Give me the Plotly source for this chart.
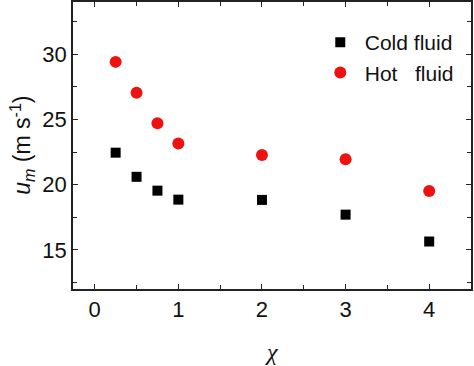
import plotly.graph_objects as go

chi = [0.25, 0.5, 0.75, 1, 2, 3, 4]
cold = [22.45, 20.6, 19.54, 18.85, 18.83, 17.7, 15.64]
hot = [29.41, 27.04, 24.7, 23.16, 22.27, 21.94, 19.52]
xticks = [0, 1, 2, 3, 4]
yticks = [15, 20, 25, 30]

fig = go.Figure()
fig.add_trace(go.Scatter(x=chi, y=cold, mode="markers", name="Cold fluid",
                         marker=dict(symbol="square", size=10, color="black")))
fig.add_trace(go.Scatter(x=chi, y=hot, mode="markers", name="Hot\u00a0\u00a0\u00a0fluid",
                         marker=dict(symbol="circle", size=12, color="#ee1111")))

axis_common = dict(showline=True, linecolor="#222", linewidth=1.5, mirror="ticks",
                   ticks="inside", ticklen=5, tickwidth=1.2, tickcolor="#222",
                   showgrid=False, zeroline=False, automargin=False,
                   tickfont=dict(family="Liberation Sans, Arial", size=22, color="#111"))
fig.update_xaxes(range=[-0.26, 4.5], tickvals=xticks,
                 minor=dict(ticks="inside", ticklen=4, dtick=0.5, tick0=0, tickcolor="#222", showgrid=False),
                 **axis_common)
fig.update_yaxes(range=[12, 34], tickvals=yticks,
                 minor=dict(ticks="inside", ticklen=4, dtick=2.5, tick0=0, tickcolor="#222", showgrid=False),
                 **axis_common)

fig.update_layout(
    width=474, height=366,
    margin=dict(l=73, r=3, t=2, b=77, autoexpand=False),
    plot_bgcolor="white", paper_bgcolor="white",
    showlegend=True,
    legend=dict(x=0.61, y=0.93, xanchor="left", yanchor="top",
                font=dict(family="Liberation Sans, Arial", size=21, color="#111"),
                bgcolor="rgba(0,0,0,0)", tracegroupgap=0, itemwidth=39),
    annotations=[
        dict(text="<i>u</i><sub><i>m</i></sub> (m s<sup>-1</sup>)", xref="paper", yref="paper",
             x=-0.13, y=0.5, textangle=-90, showarrow=False,
             font=dict(family="Liberation Sans, Arial", size=23, color="#111"),
             xanchor="center", yanchor="middle"),
        dict(text="<i>χ</i>", xref="paper", yref="paper", x=0.5, y=-0.22,
             showarrow=False, font=dict(family="Liberation Serif, Times New Roman", size=24, color="#111"),
             xanchor="center", yanchor="middle"),
    ],
)
fig.write_html("out.html", post_script="document.body.style.margin='0';",
               config={"displayModeBar": False})
